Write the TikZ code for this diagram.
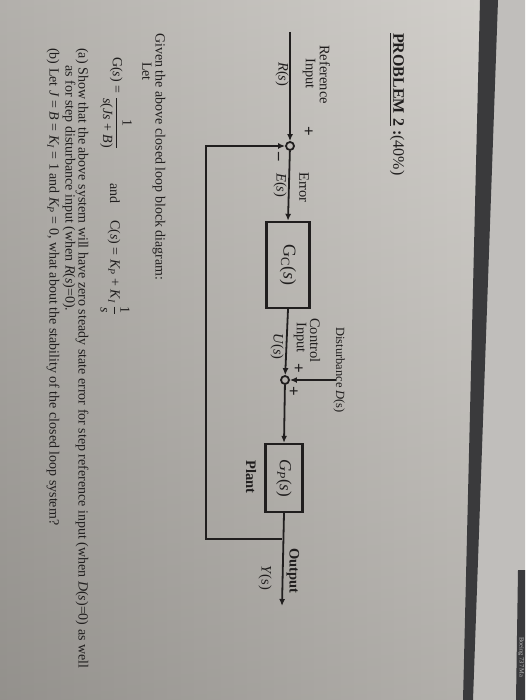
\documentclass[tikz,border=0pt]{standalone}
\usepackage{fontspec}
\setmainfont{Liberation Serif}
\usepackage{amsmath}
\usepackage{tikz}
\usetikzlibrary{arrows.meta}

\definecolor{ink}{RGB}{32,30,30}
\definecolor{pageL}{RGB}{168,165,160}
\definecolor{pageM}{RGB}{214,211,205}
\definecolor{pageR}{RGB}{204,201,196}
\definecolor{bezel}{RGB}{58,58,60}
\definecolor{beyond}{RGB}{192,190,187}

\begin{document}
\begin{tikzpicture}[
    x=1pt, y=-1pt,
    >={Latex[length=7pt,width=6pt]},
    lbl/.style={rotate=-90,anchor=west,inner sep=0pt,text=ink,font=\fontsize{14.5}{15}\selectfont},
    body/.style={lbl,font=\fontsize{14}{14}\selectfont},
    sgn/.style={rotate=-90,inner sep=0pt,text=ink,font=\fontsize{17}{17}\selectfont\bfseries},
    blk/.style={draw=ink,line width=2.4pt,rotate=-90,inner sep=0pt,text=ink},
    sumpt/.style={circle,draw=ink,line width=1.8pt,minimum size=8pt,inner sep=0pt},
    arr/.style={->,line width=1.8pt,draw=ink}
]
% photo of the sheet, page edge at the right
\useasboundingbox (0,0) rectangle (525,700);
\shade[left color=pageL,middle color=pageM,right color=pageR] (0,0) rectangle (480,700);
\shade[top color=white,bottom color=black,fill opacity=0.12] (0,0) rectangle (480,700);
\fill[beyond] (480,0) -- (525,0) -- (525,700) -- (463,700) -- cycle;
\fill[bezel] (480,0) -- (498,0) -- (473,700) -- (463,700) -- cycle;
\fill[bezel] (518,570) -- (525,570) -- (525,700) -- (516,700) -- cycle;
\node[rotate=-90,anchor=west,inner sep=0pt,text=gray!55,font=\fontsize{6.5}{6.5}\selectfont] (brand) at (521,637) {Boeing 737 Ma};

% title
\node[lbl,font=\fontsize{16}{16}\selectfont] (title) at (397,33) {\underline{\textbf{PROBLEM 2}}\textbf{ :}(40\%)};

% block diagram
\node[sumpt] (j1) at (290,146) {};
\node[blk,minimum width=86pt,minimum height=43pt,font=\fontsize{18}{18}\selectfont] (gc) at (288,265) {G\textsubscript{C}(\textit{s})};
\node[sumpt] (j2) at (285,380) {};
\node[blk,minimum width=68pt,minimum height=37pt,font=\fontsize{17}{17}\selectfont] (gp) at (284,478) {\textit{G\textsubscript{P}}(\textit{s})};
\coordinate (rin) at (290,32);
\coordinate (dist) at (336,380);
\coordinate (pick) at (282,539);
\coordinate (yout) at (282,606);
\coordinate (fbx) at (206,146);

\draw[arr] (rin) -- (j1);
\draw[arr] (j1) -- (gc.west);
\draw[arr] (gc.east) -- (j2);
\draw[arr] (dist) -- (j2);
\draw[arr] (j2) -- (gp.west);
\draw[arr] (gp.east) -- (yout);
\draw[arr] (pick) -| (fbx) -- (j1);

\node[lbl] (lref) at (325,45) {Reference};
\node[lbl] (lrin) at (309,58) {Input};
\node[lbl] (lrs) at (282,62) {\textit{R}(\textit{s})};
\node[sgn] (pl1) at (308,131) {+};
\node[sgn] (mn1) at (277,157) {–};
\node[lbl] (lerr) at (304,172) {Error};
\node[lbl] (les) at (280,173) {\textit{E}(\textit{s})};
\node[lbl] (lctl) at (315,318) {Control};
\node[lbl] (lcin) at (300,322) {Input};
\node[lbl] (lus) at (277,333) {\textit{U}(\textit{s})};
\node[lbl,font=\fontsize{12.5}{13}\selectfont] (ldist) at (339,327) {Disturbance \textit{D}(s)};
\node[sgn] (pl2) at (298,368) {+};
\node[sgn] (pl3) at (293,391) {+};
\node[lbl] (lplant) at (251,460) {\textbf{Plant}};
\node[lbl] (lout) at (293,548) {\textbf{Output}};
\node[lbl] (lys) at (265,565) {\textit{Y}(s)};

% question text
\node[body] (l1) at (159,33) {Given the above closed loop block diagram:};
\node[body] (l2) at (147,62) {Let};
\node[body] (eqg) at (116,57) {G(\textit{s}) = \(\dfrac{\text{1}}{\text{\textit{s}(\textit{Js} + \textit{B})}}\)};
\node[body] (land) at (115,183) {and};
\node[body] (eqc) at (115,220) {C(\textit{s}) = \textit{K\textsubscript{P}} + \textit{K\textsubscript{I}}\,\(\dfrac{\text{1}}{\text{\textit{s}}}\)};
\node[body] (l3) at (82,48) {(a) Show that the above system will have zero steady state error for step reference input (when \textit{D}(\textit{s})=0) as well};
\node[body] (l4) at (69,65) {as for step disturbance input (when \textit{R}(\textit{s})=0).};
\node[body] (l5) at (53,48) {(b) Let \textit{J} = \textit{B} = \textit{K\textsubscript{I}} = 1 and \textit{K\textsubscript{P}} = 0, what about the stability of the closed loop system?};
\end{tikzpicture}
\end{document}
